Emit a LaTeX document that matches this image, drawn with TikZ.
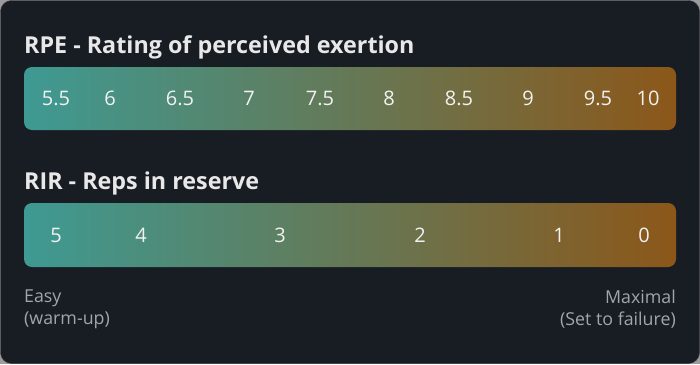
\documentclass[tikz,border=0pt]{standalone}
\usepackage{fontspec}
\setmainfont{Open Sans}
\usetikzlibrary{calc}

\definecolor{pagebg}{HTML}{9C9C9C}
\definecolor{cardbg}{HTML}{181C23}
\definecolor{cardline}{HTML}{3A3E45}
\definecolor{easyc}{HTML}{3E9A93}
\definecolor{hardc}{HTML}{8C5719}
\definecolor{titlec}{HTML}{E8E8E8}
\definecolor{numc}{HTML}{F2F2F2}
\definecolor{notec}{HTML}{A2A5AA}

\tikzset{
  heading/.style={anchor=base west, inner sep=0pt, text=titlec,
    font=\fontsize{23.3}{27}\selectfont\bfseries},
  bar/.style={left color=easyc, right color=hardc, rounded corners=8pt},
  num/.style={inner sep=0pt, text=numc, font=\fontsize{20}{24}\selectfont},
  note/.style={inner sep=0pt, text=notec, align=left,
    font=\fontsize{17.8}{22}\selectfont},
}

\begin{document}
\begin{tikzpicture}[x=1pt,y=-1pt]
    \fill[pagebg] (0,0) rectangle (700,364);
    \draw[cardline, fill=cardbg, rounded corners=11pt] (0.5,0.5) rectangle (699.5,363.5);
    \useasboundingbox (0,0) rectangle (700,364);

    % RPE scale
    \node (rpe) [heading] at (24,53) {RPE - Rating of perceived exertion};
    \shade[bar] (24,67) rectangle (676,130);
    \foreach \x/\v/\n in {56/5.5/a, 110/6/b, 180/6.5/c, 249/7/d, 320/7.5/e,
                          389/8/f, 459/8.5/g, 528/9/h, 598/9.5/i, 648/10/j}
      \node (rpe\n) [num] at (\x,98.5) {\v};

    % RIR scale
    \node (rir) [heading] at (24,189) {RIR - Reps in reserve};
    \shade[bar] (24,203) rectangle (676,267);
    \foreach \x/\v in {56/5, 141/4, 280/3, 420/2, 559/1, 644/0}
      \node (rir\v) [num] at (\x,235.5) {\v};

    \node (easy) [note, anchor=north west] at (24,290) {Easy\\(warm-up)};
    \node (max) [note, anchor=north east, align=right] at (676,290) {Maximal\\(Set to failure)};
  \end{tikzpicture}
\end{document}
